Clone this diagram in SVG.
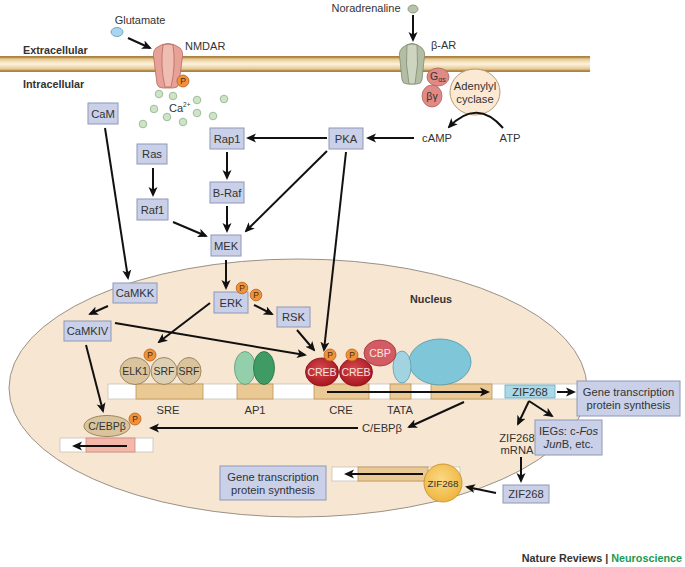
<svg xmlns="http://www.w3.org/2000/svg" width="685" height="567" viewBox="0 0 685 567">
<style>
text{font-family:"Liberation Sans",Arial,sans-serif;fill:#333;}
.lbl{font-size:11.2px;text-anchor:middle;dominant-baseline:central;}
.box{fill:#c9d0e8;stroke:#8e98b8;stroke-width:1;}
.conn{stroke:#111;stroke-width:2;fill:none;marker-end:url(#ah);}
.ca{fill:#cfe3c6;stroke:#8bb08a;stroke-width:0.8;}
.p{fill:#f0923a;stroke:#b8601a;stroke-width:0.8;}
.ptxt{font-size:8.5px;text-anchor:middle;dominant-baseline:central;fill:#4a2a10;}
.seg{fill:#ebc994;stroke:#b8945e;stroke-width:0.8;}
.dna{fill:#fff;stroke:#c9c2b8;stroke-width:0.8;}
.tan{fill:#d9c49e;stroke:#9e875e;stroke-width:1;}
.bold{font-weight:bold;font-size:10.8px;}
.pl{font-size:10.5px;text-anchor:middle;dominant-baseline:central;}
</style>
<defs>
<marker id="ah" viewBox="0 0 10 10" refX="8" refY="5" markerWidth="10" markerHeight="10" markerUnits="userSpaceOnUse" orient="auto">
<path d="M0,0.5 L10,5 L0,9.5 L2.5,5 z" fill="#111"/>
</marker>
<linearGradient id="mem" x1="0" y1="0" x2="0" y2="1">
<stop offset="0" stop-color="#a57c3e"/>
<stop offset="0.1" stop-color="#b88f52"/>
<stop offset="0.18" stop-color="#e6c88e"/>
<stop offset="0.5" stop-color="#fdf3e0"/>
<stop offset="0.82" stop-color="#e6c88e"/>
<stop offset="0.9" stop-color="#b88f52"/>
<stop offset="1" stop-color="#a57c3e"/>
</linearGradient>
<radialGradient id="creb" cx="0.45" cy="0.4" r="0.6">
<stop offset="0" stop-color="#d84a50"/>
<stop offset="1" stop-color="#a8151f"/>
</radialGradient>
<radialGradient id="zif" cx="0.45" cy="0.4" r="0.6">
<stop offset="0" stop-color="#fbd985"/>
<stop offset="1" stop-color="#efb640"/>
</radialGradient>
</defs>

<!-- Nucleus -->
<g id="nucleus">
<ellipse cx="298" cy="388" rx="289" ry="129" fill="#f7e6d1" stroke="#9a9188" stroke-width="1"/>
<text class="bold" x="431" y="299" text-anchor="middle" dominant-baseline="central">Nucleus</text>
</g>

<!-- Membrane -->
<g id="membrane">
<rect x="0" y="56" width="590" height="16" fill="url(#mem)"/>
<text class="bold" x="23" y="50" dominant-baseline="central">Extracellular</text>
<text class="bold" x="23" y="84" dominant-baseline="central">Intracellular</text>
</g>

<!-- Glutamate -->
<g id="glutamate">
<text x="140" y="20" font-size="11" text-anchor="middle" dominant-baseline="central">Glutamate</text>
<ellipse cx="117" cy="32" rx="6" ry="4.5" fill="#a9d6ec" stroke="#5a9ab8" stroke-width="0.8"/>
</g>

<!-- NMDAR -->
<g id="nmdar">
<path d="M156,48 Q168,39 180,48 Q184,52 182,60 L179,84 Q178,88 173,88 L163,88 Q158,88 157,84 L154,60 Q152,52 156,48 Z" fill="#e7a197" stroke="#b8695f" stroke-width="0.8"/>
<path d="M163,45 Q160,66 165,87 L171,87 Q176,66 173,45 Q168,43 163,45 Z" fill="#f0bdb3" stroke="#b8695f" stroke-width="0.8"/>
<text x="185" y="46" font-size="11" dominant-baseline="central">NMDAR</text>
<circle class="p" cx="183" cy="81" r="6"/>
<text class="ptxt" x="183" y="81">P</text>
</g>

<!-- Ca2+ -->
<g id="calcium">
<circle class="ca" cx="159" cy="94" r="3.8"/>
<circle class="ca" cx="173" cy="96" r="3.8"/>
<circle class="ca" cx="197" cy="100" r="3.8"/>
<circle class="ca" cx="224" cy="99" r="3.8"/>
<circle class="ca" cx="154" cy="109" r="3.8"/>
<circle class="ca" cx="167" cy="117" r="3.8"/>
<circle class="ca" cx="183" cy="122" r="3.8"/>
<circle class="ca" cx="197" cy="113" r="3.8"/>
<circle class="ca" cx="213" cy="116" r="3.8"/>
<circle class="ca" cx="143" cy="124" r="3.8"/>
<text x="169" y="108" font-size="11" dominant-baseline="central">Ca<tspan font-size="6.5" dy="-4">2+</tspan></text>
</g>

<!-- Noradrenaline -->
<g id="noradrenaline">
<text x="366" y="8" font-size="11" text-anchor="middle" dominant-baseline="central">Noradrenaline</text>
<ellipse cx="413" cy="9" rx="5" ry="4" fill="#b8c2aa" stroke="#7f8a70" stroke-width="0.8"/>
</g>

<!-- beta-AR -->
<g id="bAR">
<path d="M402,48 Q412,39 422,48 Q426,52 424,60 L422,80 Q421,84 417,84 L407,84 Q403,84 402,80 L400,60 Q398,52 402,48 Z" fill="#b2bda3" stroke="#7d8a6d" stroke-width="0.8"/>
<path d="M407,45 Q405,64 409,84 L415,84 Q419,64 417,45 Q412,43 407,45 Z" fill="#cdd5c1" stroke="#7d8a6d" stroke-width="0.8"/>
<text x="431" y="45" font-size="11" dominant-baseline="central">β-AR</text>
</g>

<g id="gas">
<ellipse cx="438" cy="77" rx="11" ry="9" fill="#e08a86" stroke="#b0605c" stroke-width="0.8"/>
<text x="430" y="76" font-size="10.5" dominant-baseline="central">G<tspan font-size="7" dy="2.5">αs</tspan></text>
</g>
<g id="bg">
<ellipse cx="432" cy="96" rx="10" ry="11" fill="#e08a86" stroke="#b0605c" stroke-width="0.8"/>
<text x="432" y="96" font-size="10.5" text-anchor="middle" dominant-baseline="central">βγ</text>
</g>
<g id="adenylyl">
<ellipse cx="475" cy="92" rx="25" ry="23" fill="#fbe9d3" stroke="#b79a78" stroke-width="1"/>
<text class="lbl" x="475" y="86">Adenylyl</text>
<text class="lbl" x="475" y="99">cyclase</text>
</g>

<g id="camp"><text class="lbl" x="437" y="138">cAMP</text></g>
<g id="atp"><text class="lbl" x="510" y="138">ATP</text></g>

<!-- Boxes -->
<g id="CaM"><rect class="box" x="88" y="103" width="30" height="21"/><text class="lbl" x="103" y="113.5">CaM</text></g>
<g id="Ras"><rect class="box" x="137" y="144" width="30" height="20"/><text class="lbl" x="152" y="154">Ras</text></g>
<g id="Raf1"><rect class="box" x="137" y="199" width="31" height="21"/><text class="lbl" x="152.5" y="209.5">Raf1</text></g>
<g id="Rap1"><rect class="box" x="210" y="128" width="34" height="21"/><text class="lbl" x="227" y="138.5">Rap1</text></g>
<g id="BRaf"><rect class="box" x="210" y="182" width="34" height="21"/><text class="lbl" x="227" y="192.5">B-Raf</text></g>
<g id="MEK"><rect class="box" x="211" y="235" width="30" height="21"/><text class="lbl" x="226" y="245.5">MEK</text></g>
<g id="PKA"><rect class="box" x="329" y="128" width="34" height="21"/><text class="lbl" x="346" y="138.5">PKA</text></g>
<g id="CaMKK"><rect class="box" x="113" y="283" width="44" height="20"/><text class="lbl" x="135" y="293">CaMKK</text></g>
<g id="CaMKIV"><rect class="box" x="64" y="321" width="47" height="20"/><text class="lbl" x="87.5" y="331">CaMKIV</text></g>
<g id="ERK"><rect class="box" x="214" y="292" width="34" height="21"/><text class="lbl" x="231" y="302.5">ERK</text>
<circle class="p" cx="242" cy="288" r="5.8"/><text class="ptxt" x="242" y="288">P</text>
<circle class="p" cx="256" cy="295" r="5.8"/><text class="ptxt" x="256" y="295">P</text></g>
<g id="RSK"><rect class="box" x="277" y="307" width="33" height="20"/><text class="lbl" x="293.5" y="317">RSK</text></g>

<!-- DNA main -->
<g id="dna">
<rect class="dna" x="108" y="384" width="470" height="15"/>
<rect class="seg" x="136" y="384" width="67" height="15"/>
<rect class="seg" x="237" y="384" width="36" height="15"/>
<rect class="seg" x="314" y="384" width="55" height="15"/>
<rect class="seg" x="390" y="384" width="21" height="15"/>
<rect class="seg" x="431" y="384" width="61" height="15"/>
<text class="lbl" x="168" y="410">SRE</text>
<text class="lbl" x="255" y="410">AP1</text>
<text class="lbl" x="341" y="410">CRE</text>
<text class="lbl" x="400" y="410">TATA</text>
</g>
<g id="ZIF268gene">
<rect x="505" y="385" width="50" height="13" fill="#a9d8e6" stroke="#6aaac0" stroke-width="0.8"/>
<text class="lbl" x="530" y="391.5">ZIF268</text>
</g>

<!-- Proteins -->
<g id="ELK1">
<ellipse class="tan" cx="135" cy="371" rx="15" ry="13.5"/>
<text class="pl" x="135" y="371">ELK1</text>
<circle class="p" cx="150" cy="355" r="6"/><text class="ptxt" x="150" y="355">P</text>
</g>
<g id="SRF1"><ellipse class="tan" cx="164" cy="371" rx="13" ry="13.5" style="fill:#ddd0b4"/><text class="pl" x="164" y="371">SRF</text></g>
<g id="SRF2"><ellipse class="tan" cx="189" cy="371" rx="12" ry="13.5"/><text class="pl" x="189" y="371">SRF</text></g>
<g id="AP1">
<ellipse cx="245" cy="368" rx="10.5" ry="16.5" fill="#93cfab" stroke="#5a9a74" stroke-width="0.8"/>
<ellipse cx="264" cy="368" rx="10.5" ry="16.5" fill="#3f9a63" stroke="#2a7048" stroke-width="0.8"/>
</g>
<g id="bigblue">
<ellipse cx="440" cy="362" rx="31" ry="23" fill="#7ec6d8" stroke="#4f98aa" stroke-width="0.8"/>
</g>
<g id="TBP">
<ellipse cx="402" cy="367" rx="9" ry="16" fill="#a2d3e0" stroke="#5a9aae" stroke-width="0.8"/>
</g>
<g id="CBP">
<ellipse cx="380" cy="353" rx="16" ry="13" fill="#d25c64" stroke="#9e2e36" stroke-width="0.8"/>
<text class="pl" x="380" y="353" style="fill:#fbe6e0">CBP</text>
</g>
<g id="CREB1">
<ellipse cx="322" cy="372" rx="16.5" ry="14" fill="url(#creb)" stroke="#7e0e16" stroke-width="0.8"/>
<text class="pl" x="322" y="372" style="fill:#fbe2da">CREB</text>
<circle class="p" cx="330" cy="355" r="6"/><text class="ptxt" x="330" y="355">P</text>
</g>
<g id="CREB2">
<ellipse cx="356" cy="372" rx="16.5" ry="14" fill="url(#creb)" stroke="#7e0e16" stroke-width="0.8"/>
<text class="pl" x="356" y="372" style="fill:#fbe2da">CREB</text>
<circle class="p" cx="352" cy="355" r="6"/><text class="ptxt" x="352" y="355">P</text>
</g>

<!-- C/EBPb -->
<g id="cebp-dna">
<rect class="dna" x="60" y="438" width="93" height="14"/>
<rect x="86" y="438" width="49" height="14" fill="#f3b8aa" stroke="#c98a7c" stroke-width="0.8"/>
</g>
<g id="CEBPb">
<ellipse class="tan" cx="107" cy="426" rx="23" ry="10.5"/>
<text class="pl" x="107" y="426">C/EBPβ</text>
<circle class="p" cx="135" cy="419" r="6"/><text class="ptxt" x="135" y="419">P</text>
</g>
<g id="CEBPb-label"><text class="lbl" x="382" y="428">C/EBPβ</text></g>

<!-- ZIF268 mRNA etc -->
<g id="mRNA">
<text class="lbl" x="517" y="438">ZIF268</text>
<text class="lbl" x="517" y="450">mRNA</text>
</g>
<g id="IEGs">
<rect class="box" x="535" y="420" width="67" height="35"/>
<text class="lbl" x="568.5" y="431">IEGs: c-<tspan font-style="italic">Fos</tspan></text>
<text class="lbl" x="568.5" y="444"><tspan font-style="italic">Jun</tspan>B, etc.</text>
</g>
<g id="GeneUpper">
<rect class="box" x="577" y="381" width="103" height="35"/>
<text class="lbl" x="628.5" y="392">Gene transcription</text>
<text class="lbl" x="628.5" y="405">protein synthesis</text>
</g>
<g id="ZIF268box"><rect class="box" x="503" y="485" width="46" height="18"/><text class="lbl" x="526" y="494">ZIF268</text></g>
<g id="zif-dna">
<rect class="dna" x="332" y="467" width="128" height="14"/>
<rect class="seg" x="358" y="467" width="70" height="14"/>
</g>
<g id="ZIF268prot">
<circle cx="443" cy="483" r="19" fill="url(#zif)" stroke="#c08a2a" stroke-width="0.8"/>
<text class="pl" x="443" y="483" font-size="9.8" style="font-size:9.8px">ZIF268</text>
</g>
<g id="GeneLower">
<rect class="box" x="220" y="466" width="106" height="34"/>
<text class="lbl" x="273" y="477">Gene transcription</text>
<text class="lbl" x="273" y="490">protein synthesis</text>
</g>

<!-- Connectors -->
<g id="connectors">
<line class="conn" x1="128" y1="38" x2="150" y2="48"/>
<line class="conn" x1="413" y1="15" x2="413" y2="40"/>
<line class="conn" x1="414" y1="138" x2="368" y2="138"/>
<path class="conn" d="M503,128 Q477,98 449,127"/>
<line class="conn" x1="327" y1="138" x2="248" y2="138"/>
<line class="conn" x1="227" y1="152" x2="227" y2="178"/>
<line class="conn" x1="227" y1="206" x2="227" y2="231"/>
<line class="conn" x1="153" y1="168" x2="153" y2="195"/>
<line class="conn" x1="173" y1="222" x2="206" y2="236"/>
<line class="conn" x1="327" y1="151" x2="246" y2="231"/>
<line class="conn" x1="346" y1="152" x2="324" y2="350"/>
<line class="conn" x1="105" y1="128" x2="128" y2="278"/>
<line class="conn" x1="226" y1="260" x2="226" y2="288"/>
<line class="conn" x1="108" y1="306" x2="90" y2="314"/>
<line class="conn" x1="210" y1="303" x2="159" y2="342"/>
<line class="conn" x1="254" y1="305" x2="272" y2="314"/>
<line class="conn" x1="297" y1="330" x2="314" y2="350"/>
<line class="conn" x1="115" y1="323" x2="305" y2="355"/>
<line class="conn" x1="86" y1="345" x2="103" y2="411"/>
<line class="conn" x1="327" y1="392" x2="488" y2="392"/>
<line class="conn" x1="557" y1="392" x2="574" y2="392"/>
<line class="conn" x1="464" y1="402" x2="409" y2="427"/>
<line class="conn" x1="358" y1="428" x2="151" y2="428"/>
<line class="conn" x1="127" y1="446" x2="74" y2="446"/>
<line class="conn" x1="529" y1="401" x2="518" y2="424"/>
<line class="conn" x1="529" y1="401" x2="552" y2="416"/>
<line class="conn" x1="521" y1="457" x2="521" y2="481"/>
<line class="conn" x1="496" y1="493" x2="467" y2="487"/>
<line class="conn" x1="423" y1="474" x2="346" y2="474"/>
</g>

<g id="credit">
<text x="682" y="558" font-size="10.8" font-weight="bold" text-anchor="end" dominant-baseline="central">Nature Reviews | <tspan style="fill:#1a9a50">Neuroscience</tspan></text>
</g>
</svg>
